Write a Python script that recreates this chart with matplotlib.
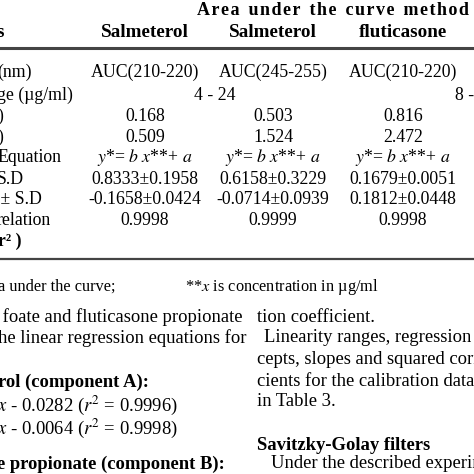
import matplotlib.pyplot as plt

plt.rcParams["font.family"] = ["Liberation Serif", "DejaVu Serif"]

# table content (cropped page)
col_heads = ["Salmeterol", "Salmeterol", "fluticasone"]
row_labels = ["(nm)", "ge (\u00b5g/ml)", ")", ")", "Equation", "S.D", "\u2009\u00b1 S.D", "relation", "r\u00b2 )"]
wavelengths = ["AUC(210-220)", "AUC(245-255)", "AUC(210-220)"]
lod = ["0.168", "0.503", "0.816"]
loq = ["0.509", "1.524", "2.472"]
slopes = ["0.8333\u00b10.1958", "0.6158\u00b10.3229", "0.1679\u00b10.0051"]
intercepts = ["-0.1658\u00b10.0424", "-0.0714\u00b10.0939", "0.1812\u00b10.0448"]
corr = ["0.9998", "0.9999", "0.9998"]

fig = plt.figure(figsize=(4.74, 4.74), dpi=100)
ax = fig.add_axes([0, 0, 1, 1])
ax.set_xlim(0, 474)
ax.set_ylim(474, 0)
ax.axis("off")

fs = 12.8
col_x = [145, 273, 403]
row_y = [72, 95, 116, 137, 158, 180, 200, 220, 241]

# header
ax.text(333, 10, "A r e a  u n d e r  t h e  c u r v e  m e t h o d".replace("  ", "\u2002").replace(" ", "\u200a"),
        ha="center", va="center", fontsize=13, fontweight="bold")
ax.text(-4, 32, "s", ha="left", va="center", fontsize=13.8, fontweight="bold")
for x, h in zip(col_x, col_heads):
    ax.text(x, 32, h, ha="center", va="center", fontsize=13.8, fontweight="bold")
ax.axhline(48, color="#444444", lw=2.2)
ax.axhline(259, color="#444444", lw=1.6)

# left labels (clipped at page edge)
for i, (y, lab) in enumerate(zip(row_y, row_labels)):
    ax.text(-3 if i != 8 else -2, y, lab, ha="left", va="center", fontsize=fs,
            fontweight="bold" if i == 8 else "normal")

for x, w, a, b, s, ic, c in zip(col_x, wavelengths, lod, loq, slopes, intercepts, corr):
    ax.text(x, row_y[0], w, ha="center", va="center", fontsize=fs)
    ax.text(x, row_y[2], a, ha="center", va="center", fontsize=fs)
    ax.text(x, row_y[3], b, ha="center", va="center", fontsize=fs)
    ax.text(x, row_y[4], r"$y$*= $b$ $x$**+ $a$", ha="center", va="center",
            fontsize=fs, math_fontfamily="stix")
    ax.text(x, row_y[5], s, ha="center", va="center", fontsize=fs)
    ax.text(x, row_y[6], ic, ha="center", va="center", fontsize=fs)
    ax.text(x, row_y[7], c, ha="center", va="center", fontsize=fs)
ax.text(215, row_y[1], "4 - 24", ha="center", va="center", fontsize=fs)
ax.text(455, row_y[1], "8 - 48", ha="left", va="center", fontsize=fs)

# footnote
ax.text(-2, 287, "a under the curve;", ha="left", va="center", fontsize=11.8)
ax.text(185, 287, "**$x$ is concentration in \u00b5g/ml", ha="left", va="center",
        fontsize=11.8, math_fontfamily="stix")

# body text, left column
body = 13.4
ax.text(-2, 317, " foate and fluticasone propionate", ha="left", va="center", fontsize=body)
ax.text(-2, 338, "he linear regression equations for", ha="left", va="center", fontsize=body)
ax.text(-2, 382, "rol (component A):", ha="left", va="center", fontsize=body, fontweight="bold")
ax.text(-3, 405, r"$x$ - 0.0282 ($r^2$ = 0.9996)", ha="left", va="center", fontsize=body,
        math_fontfamily="stix")
ax.text(-3, 428, r"$x$ - 0.0064 ($r^2$ = 0.9998)", ha="left", va="center", fontsize=body,
        math_fontfamily="stix")
ax.text(-3, 464, "e propionate (component B):", ha="left", va="center", fontsize=body,
        fontweight="bold")

# body text, right column
rx = 257
ax.text(rx, 317, "tion coefficient.", ha="left", va="center", fontsize=body)
ax.text(rx + 7, 338, "Linearity ranges, regression inter-", ha="left", va="center", fontsize=body)
ax.text(rx, 360, "cepts, slopes and squared correla-", ha="left", va="center", fontsize=body)
ax.text(rx, 381, "cients for the calibration data are", ha="left", va="center", fontsize=body)
ax.text(rx, 402, "in Table 3.", ha="left", va="center", fontsize=body)
ax.text(rx, 445, "Savitzky-Golay filters", ha="left", va="center", fontsize=body, fontweight="bold")
ax.text(rx + 14, 464, "Under the described experimental", ha="left", va="center", fontsize=body)

fig.savefig("out.png", dpi=100)
